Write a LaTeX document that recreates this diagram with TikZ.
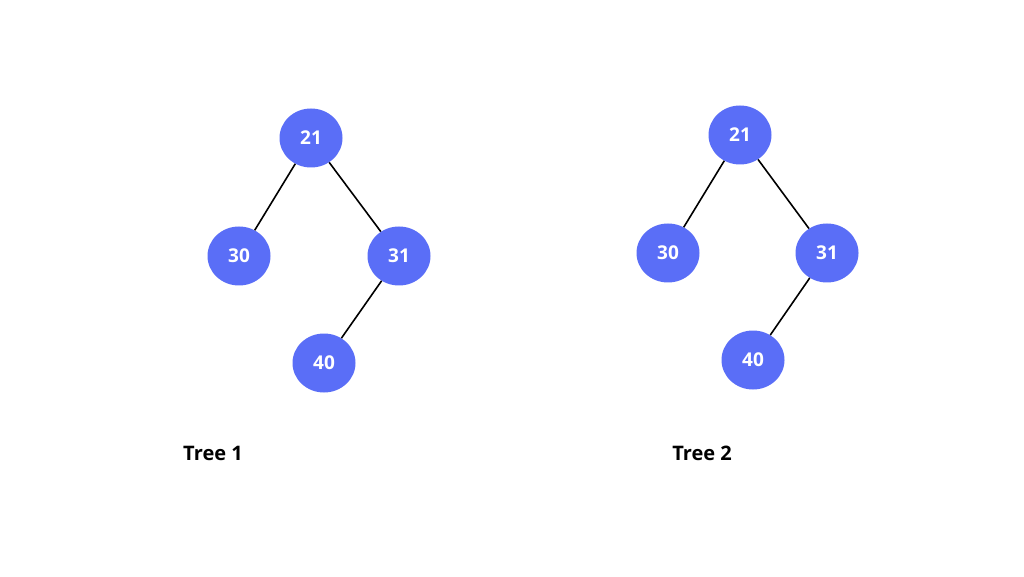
\documentclass[tikz,border=0pt]{standalone}
\usepackage{fontspec}
\setmainfont{Open Sans}
\usetikzlibrary{shapes.geometric}
\definecolor{nodeblue}{HTML}{5A6EF7}
\begin{document}
\begin{tikzpicture}[x=1pt,y=1pt,
  tn/.style={ellipse,fill=nodeblue,minimum width=63pt,minimum height=59pt,inner sep=0pt,text=white,font=\bfseries\fontsize{19}{22}\selectfont},
  edge/.style={line width=1.6pt,black},
  lbl/.style={font=\bfseries\fontsize{20}{24}\selectfont}]
\useasboundingbox[fill=white] (0,0) rectangle (1024,576);
\node[tn] (a1) at (311,438) {21};
\node[tn] (a2) at (239,320) {30};
\node[tn] (a3) at (399,320) {31};
\node[tn] (a4) at (324,213) {40};
\draw[edge] (a1) -- (a2);
\draw[edge] (a1) -- (a3);
\draw[edge] (a3) -- (a4);
\node[tn] (b1) at (740,441) {21};
\node[tn] (b2) at (668,323) {30};
\node[tn] (b3) at (827,323) {31};
\node[tn] (b4) at (753,216) {40};
\draw[edge] (b1) -- (b2);
\draw[edge] (b1) -- (b3);
\draw[edge] (b3) -- (b4);
\node[lbl] (t1) at (213,123) {Tree 1};
\node[lbl] (t2) at (702,123) {Tree 2};
\end{tikzpicture}
\end{document}
